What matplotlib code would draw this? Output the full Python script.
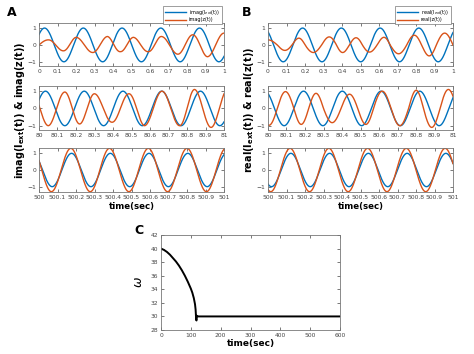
import matplotlib
matplotlib.use("Agg")
import matplotlib.pyplot as plt
import numpy as np

# external input: frequency (rad/s) and time of first imag peak in each window
omega_ext = 30.0
windows = [(0, 1), (80, 81), (500, 501)]
ext_peak = [0.03, 80.035, 500.176]
xticks = [np.round(np.arange(0, 1.01, 0.1), 1),
          np.round(np.arange(80, 81.01, 0.1), 1),
          np.round(np.arange(500, 501.01, 0.1), 1)]
xticklabels = [[f"{v:g}" for v in xt] for xt in xticks]

# extrema of imag(z(t)) (time, signed value) for each window
z_ext_t = [
    [-0.05, 0.05, 0.13, 0.20, 0.29, 0.37, 0.44, 0.51, 0.59, 0.66, 0.75, 0.83, 0.91, 1.00, 1.08],
    [79.96, 80.05, 80.14, 80.22, 80.30, 80.395, 80.485, 80.57, 80.665, 80.76, 80.84, 80.93, 81.02],
    [499.963, 500.067, 500.172, 500.277, 500.381, 500.486, 500.591, 500.695, 500.800, 500.905, 501.010],
]
z_ext_v = [
    [-0.3, 0.3, -0.35, 0.45, -0.45, 0.5, -0.4, 0.45, -0.4, 0.5, -0.55, 0.6, -0.7, 0.7, -0.7],
    [0.95, -1.0, 0.95, -0.9, 0.85, -0.8, 0.85, -1.0, 1.0, -1.0, 1.1, -1.1, 1.1],
    [1.3, -1.3, 1.3, -1.3, 1.3, -1.3, 1.3, -1.3, 1.3, -1.3, 1.3],
]
ylims = [(-1.25, 1.3), (-1.25, 1.3), (-1.32, 1.32)]

# panel C: omega vs time
c_t = [0, 10, 20, 30, 40, 50, 60, 70, 80, 90, 100, 105, 110, 114, 116, 117, 118, 119, 120, 122, 125, 600]
c_w = [40, 39.8, 39.5, 39.1, 38.6, 38.1, 37.5, 36.8, 36.0, 35.1, 34.1, 33.5, 32.7, 31.8, 31.0, 30.2,
       29.5, 29.4, 30.1, 30.05, 30, 30]

BLUE = "#0072BD"
ORANGE = "#D95319"
EDGE = "#777777"
W, H = 474.0, 354.0


def rect(l, t, r, b):
    return [l / W, 1 - b / H, (r - l) / W, (b - t) / H]


def ext_signal(t, tp):
    th = omega_ext * (t - tp) + np.pi / 2
    return np.exp(1j * th)


def z_signal(t, et, ev):
    et = np.asarray(et)
    ev = np.asarray(ev)
    k = np.arange(len(et))
    th0 = np.pi / 2 if ev[0] > 0 else -np.pi / 2
    th = np.interp(t, et, th0 + np.pi * k)
    r = np.interp(t, et, np.abs(ev))
    return r * np.exp(1j * th)


def style(ax):
    ax.tick_params(direction="in", top=True, right=True, length=2, width=0.5,
                   labelsize=4.3, colors="#444444", pad=2)
    for s in ax.spines.values():
        s.set_color(EDGE)
        s.set_linewidth(0.6)


fig = plt.figure(figsize=(W / 100, H / 100), dpi=100)

rows = [(23, 66), (86, 130), (148, 192)]
cols = [(39, 224, "imag", np.imag), (268, 453, "real", np.real)]

for ci, (l, r, name, part) in enumerate(cols):
    for wi, (t0, t1) in enumerate(windows):
        top, bot = rows[wi]
        ax = fig.add_axes(rect(l, top, r, bot))
        t = np.linspace(t0, t1, 1500)
        ax.plot(t, part(ext_signal(t, ext_peak[wi])), color=BLUE, lw=1.0,
                label=name + r"(I$_{ext}$(t))")
        ax.plot(t, part(z_signal(t, z_ext_t[wi], z_ext_v[wi])), color=ORANGE, lw=1.0,
                label=name + "(z(t))")
        ax.set_xlim(t0, t1)
        ax.set_ylim(*ylims[wi])
        ax.set_xticks(xticks[wi])
        ax.set_xticklabels(xticklabels[wi])
        ax.set_yticks([-1, 0, 1])
        style(ax)
        if wi == 0:
            leg = ax.legend(loc="lower right", bbox_to_anchor=(1.0, 0.92), fontsize=3.6,
                            handlelength=4.2, borderpad=0.3, labelspacing=0.15,
                            handletextpad=0.6, fancybox=False, framealpha=1)
            leg.get_frame().set_edgecolor(EDGE)
            leg.get_frame().set_linewidth(0.5)
    cx = (l + r) / 2 / W
    fig.text(cx, 1 - 207 / H, "time(sec)", ha="center", va="center",
             fontsize=6.2, fontweight="bold")
    ylab = name + r"(I$_{\mathbf{ext}}$(t)) & " + name + "(z(t))"
    fig.text((l - 19) / W, 1 - 110 / H, ylab, rotation=90, ha="center", va="center",
             fontsize=7, fontweight="bold")

fig.text(7 / W, 1 - 13 / H, "A", fontsize=9, fontweight="bold", va="center")
fig.text(242 / W, 1 - 13 / H, "B", fontsize=9, fontweight="bold", va="center")
fig.text(134 / W, 1 - 230 / H, "C", fontsize=9, fontweight="bold", va="center")

axc = fig.add_axes(rect(161, 235, 340, 330))
axc.plot(c_t, c_w, color="black", lw=1.4)
axc.set_xlim(0, 600)
axc.set_ylim(28, 42)
axc.set_xticks(range(0, 601, 100))
axc.set_yticks(range(28, 43, 2))
style(axc)
axc.set_xlabel("time(sec)", fontsize=6.5, fontweight="bold", labelpad=1)
axc.set_ylabel(r"$\omega$", fontsize=9, labelpad=4)

fig.savefig("out.png", dpi=100)
